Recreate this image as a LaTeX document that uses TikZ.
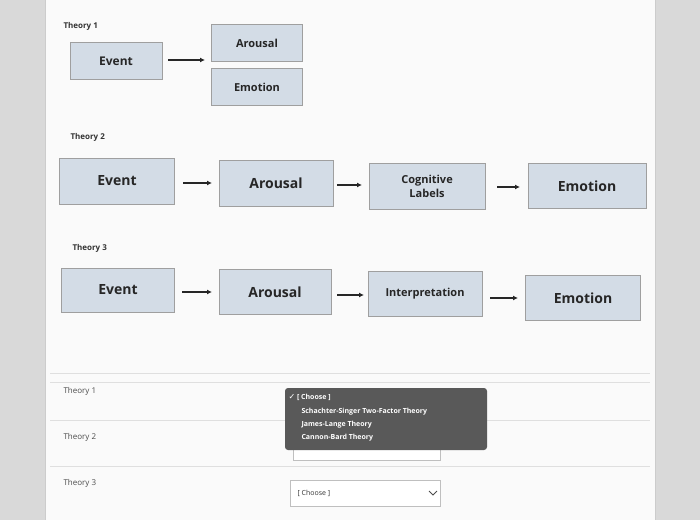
\documentclass[tikz,border=0pt]{standalone}
\usepackage{fontspec}
\usetikzlibrary{arrows.meta}
\setmainfont{Open Sans}
\newfontfamily\sym{DejaVu Sans}
\definecolor{boxc}{HTML}{D3DCE6}
\begin{document}
\begin{tikzpicture}[x=1pt,y=-1pt,
 bx/.style={draw=gray!75,fill=boxc,text=black!85,align=center,inner sep=0pt},
 ar/.style={-{Latex[length=5pt,width=5pt]},line width=1.3pt,black!85},
 lb/.style={font=\fontsize{8}{9}\selectfont\bfseries,anchor=west,text=black!80},
 lb2/.style={font=\fontsize{8}{9}\selectfont,anchor=west,text=black!70},
 opt/.style={font=\fontsize{7}{8}\selectfont\bfseries,anchor=west,text=white}]
\useasboundingbox (0,0) rectangle (700,520);
\fill[gray!30] (0,0) rectangle (700,520);
\fill[white!96!gray] (45,0) rectangle (655,520);
\draw[gray!40] (45,0) -- (45,520) (655,0)--(655,520);
\node[lb] (t1) at (60,26) {Theory 1};
\node[bx,minimum width=92pt,minimum height=37pt,font=\fontsize{12}{14}\selectfont\bfseries] (e1) at (116,61) {Event};
\node[bx,minimum width=91pt,minimum height=37pt,font=\fontsize{11}{13}\selectfont\bfseries] (a1) at (257,43) {Arousal};
\node[bx,minimum width=91pt,minimum height=37pt,font=\fontsize{11}{13}\selectfont\bfseries] (m1) at (257,87) {Emotion};
\coordinate (p1) at (168,60); \coordinate (p2) at (205,60);
\draw[ar] (p1)--(p2);
\node[lb] (t2) at (67,137) {Theory 2};
\node[bx,minimum width=115pt,minimum height=46pt,font=\fontsize{14}{16}\selectfont\bfseries] (e2) at (117,181) {Event};
\node[bx,minimum width=114pt,minimum height=46pt,font=\fontsize{14}{16}\selectfont\bfseries] (a2) at (276,183) {Arousal};
\node[bx,minimum width=116pt,minimum height=46pt,font=\fontsize{11}{14}\selectfont\bfseries] (c2) at (427,186) {Cognitive\\Labels};
\node[bx,minimum width=118pt,minimum height=45pt,font=\fontsize{14}{16}\selectfont\bfseries] (m2) at (587,186) {Emotion};
\coordinate (q1) at (183,183); \coordinate (q2) at (212,183);
\coordinate (q3) at (337,185); \coordinate (q4) at (362,185);
\coordinate (q5) at (497,187); \coordinate (q6) at (520,187);
\draw[ar] (q1)--(q2); \draw[ar] (q3)--(q4); \draw[ar] (q5)--(q6);
\node[lb] (t3) at (69,248) {Theory 3};
\node[bx,minimum width=113pt,minimum height=44pt,font=\fontsize{14}{16}\selectfont\bfseries] (e3) at (118,290) {Event};
\node[bx,minimum width=112pt,minimum height=45pt,font=\fontsize{14}{16}\selectfont\bfseries] (a3) at (275,292) {Arousal};
\node[bx,minimum width=114pt,minimum height=45pt,font=\fontsize{11}{14}\selectfont\bfseries] (i3) at (425,294) {Interpretation};
\node[bx,minimum width=115pt,minimum height=45pt,font=\fontsize{14}{16}\selectfont\bfseries] (m3) at (583,298) {Emotion};
\coordinate (r1) at (182,292); \coordinate (r2) at (212,292);
\coordinate (r3) at (337,295); \coordinate (r4) at (364,295);
\coordinate (r5) at (490,298); \coordinate (r6) at (518,298);
\draw[ar] (r1)--(r2); \draw[ar] (r3)--(r4); \draw[ar] (r5)--(r6);
\draw[gray!25] (50,373)--(650,373) (50,382)--(650,382) (50,420)--(650,420) (50,466)--(650,466);
\node[lb2] (u1) at (60,391) {Theory 1};
\node[lb2] (u2) at (60,437) {Theory 2};
\node[lb2] (u3) at (60,483) {Theory 3};
\draw[gray!50,fill=white] (293,438) rectangle (440,460);
\node[draw=gray!50,fill=white,minimum width=150pt,minimum height=26pt,inner sep=0pt] (dd) at (365,493) {};
\node[font=\fontsize{7}{8}\selectfont,anchor=west,text=black!80] (dt) at (294,493) {[ Choose ]};
\draw[black!70,line width=0.8pt] (429,491)--(433,495)--(437,491);
\node[fill=black!65,rounded corners=3pt,minimum width=202pt,minimum height=62pt,inner sep=0pt] (pop) at (386,419) {};
\node[opt] (o0) at (285,397) {{\sym\fontsize{8}{8}\selectfont ✓} [ Choose ]};
\node[opt] (o1) at (298,412) {Schachter-Singer Two-Factor Theory};
\node[opt] (o2) at (298,425) {James-Lange Theory};
\node[opt] (o3) at (298,438) {Cannon-Bard Theory};
\end{tikzpicture}
\end{document}
